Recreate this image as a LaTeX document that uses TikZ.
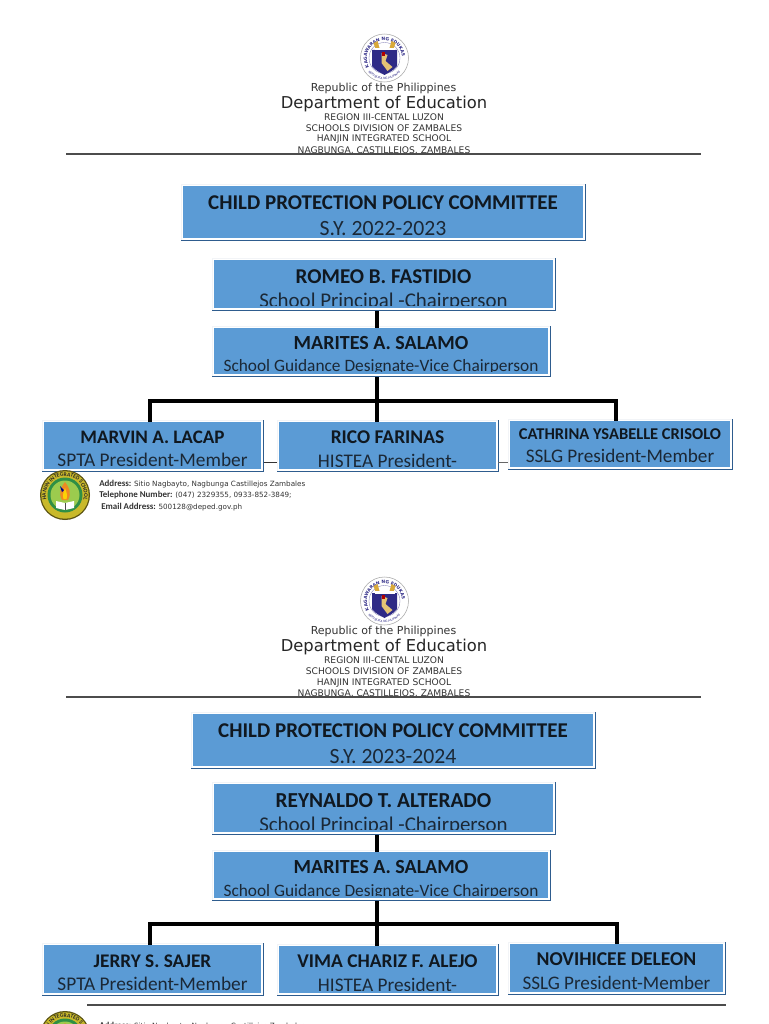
\documentclass[tikz,border=0pt]{standalone}
\usepackage{fontspec}
\setmainfont{Carlito}
\newfontfamily\djv{DejaVu Sans}
\usetikzlibrary{decorations.text}
\definecolor{boxblue}{HTML}{5B9BD5}
\definecolor{boxedge}{HTML}{2E5C8E}
\definecolor{boxframe}{HTML}{F2F4F7}
\definecolor{inkdark}{HTML}{101820}
\definecolor{inksub}{HTML}{1B2836}
\definecolor{headgray}{HTML}{333333}
\definecolor{sealblue}{HTML}{2E2A86}
\definecolor{sealgold}{HTML}{D9A93A}
\definecolor{logogreen}{HTML}{2F8F45}
\definecolor{logolime}{HTML}{9CCB4E}
\definecolor{logogold}{HTML}{C9B92A}
\definecolor{logoflame}{HTML}{EE8A22}
\newcommand{\fs}[1]{\fontsize{#1}{#1}\selectfont}
\tikzset{
  x=0.75pt,y=-0.75pt,
  conn/.style={draw=black,line width=2.4pt,line cap=butt,line join=miter},
  thinconn/.style={draw=#1,line width=0.7pt},
  boxfill/.style={fill=boxblue,draw=none,inner sep=0pt,outer sep=0pt},
  titletext/.style={anchor=base,inner sep=0pt,text=inkdark,font=\bfseries},
  subtext/.style={anchor=base,inner sep=0pt,text=inksub},
  headline/.style={anchor=base,inner sep=0pt,text=headgray},
  addr/.style={anchor=base west,inner sep=0pt,text=headgray},
  rulegray/.style={draw=#1,line width=0.8pt},
}
% name x1 y1 x2 y2 title titlebaseline sub subbaseline
\newcommand{\orgbox}[9]{%
  \fill[boxedge] (#2-2,#3-2) rectangle (#4+3,#5+3);
  \fill[boxframe] (#2-2,#3-2) rectangle (#4+2,#5+2);
  \fill[white] (#2-1,#3-1) rectangle (#4+2,#5+2);
  \pgfmathsetmacro{\mx}{(#2+#4)/2}
  \pgfmathsetmacro{\my}{(#3+#5)/2}
  \pgfmathsetmacro{\mw}{(#4-#2)*0.75}
  \pgfmathsetmacro{\mh}{(#5-#3)*0.75}
  \node[boxfill,minimum width=\mw pt,minimum height=\mh pt] (#1) at (\mx,\my) {};
  \begin{scope}
    \clip (#2,#3) rectangle (#4,#5-3);
    \node[titletext] (#1title) at (\mx,#7+0.7) {#6};
    \node[subtext] (#1sub) at (\mx,#9+0.7) {#8};
  \end{scope}
}
\newcommand{\depedseal}{%
  \fill[white] (0,0) circle (24);
  \draw[gray!70,line width=0.4pt] (0,0) circle (24);
  \draw[sealblue!60,line width=0.25pt] (0,0) circle (15.5);
  \path[decorate,decoration={text along path,text align=center,
    text={|\djv\bfseries\fs{3.3}\color{sealblue}|KAGAWARAN NG EDUKASYON}}]
    (-17.5,0) arc[start angle=180,end angle=360,radius=17.5];
  \path[decorate,decoration={text along path,text align=center,
    text={|\djv\fs{2.2}\color{sealblue}|REPUBLIKA NG PILIPINAS}}]
    (-21.5,3) arc[start angle=172,end angle=8,radius=21.5];
  \fill[sealgold] (-11,-15) -- (-7,-17) -- (-5,-10) -- (-9,-9) -- cycle;
  \fill[sealgold] (11,-15) -- (7,-17) -- (5,-10) -- (9,-9) -- cycle;
  \fill[sealblue] (-12.5,-8) -- (12.5,-8) -- (12.5,8) .. controls (9,13) and (3,15) .. (0,17)
     .. controls (-3,15) and (-9,13) .. (-12.5,8) -- cycle;
  \fill[white] (-10,-10) rectangle (10,-7.5);
  \fill[sealgold!70!white] (-3,-5) -- (3,-3) -- (1,3) -- (8,9) -- (3,13) -- (-3,5) -- cycle;
  \fill[red!70!black] (-3,-6) -- (0,-6) -- (0,-2) -- (-3,-2) -- cycle;
}
\newcommand{\schoollogo}{%
  \fill[logogold!45!black] (0,0) circle (25);
  \fill[logogold] (0,0) circle (23.7);
  \fill[logogreen] (0,0) circle (17.5);
  \fill[logolime] (0,0) circle (14.5);
  \path[decorate,decoration={text along path,text align=center,
    text={|\bfseries\fs{4.2}\color{black!85}|HANJIN INTEGRATED SCHOOL}}]
    (-18.6,4) arc[start angle=168,end angle=372,radius=19];
  \fill[white] (-9,6) -- (0,8) -- (9,6) -- (9,13) -- (0,15) -- (-9,13) -- cycle;
  \draw[black!70,line width=0.3pt] (0,8) -- (0,15);
  \fill[logoflame] (-3,5) .. controls (-7,-2) and (-4,-8) .. (0,-13)
     .. controls (4,-8) and (7,-2) .. (3,5) -- cycle;
  \fill[yellow!70!orange] (-1.5,4) .. controls (-3,0) and (-1,-4) .. (0,-7)
     .. controls (1,-4) and (3,0) .. (1.5,4) -- cycle;
  \fill[blue!55!black] (-3,-3) -- (-5,-9) -- (-1,-5) -- cycle;
}
\newcommand{\headerblock}[1]{%
  \begin{scope}[shift={(384.5,58)}]\depedseal\end{scope}
  \node[headline,font=\djv\fs{8.25}] (#1rep) at (383.5,91) {Republic of the Philippines};
  \node[headline,font=\djv\fs{12.25},text=black!85] (#1dep) at (384,108.5) {Department of Education};
  \node[headline,font=\djv\fs{6.85}] (#1reg) at (384,120) {REGION III-CENTAL LUZON};
  \node[headline,font=\djv\fs{6.85}] (#1div) at (384,131.5) {SCHOOLS DIVISION OF ZAMBALES};
  \node[headline,font=\djv\fs{6.85}] (#1han) at (384,142) {HANJIN INTEGRATED SCHOOL};
  \node[headline,font=\djv\fs{6.85}] (#1nag) at (384,153) {NAGBUNGA, CASTILLEJOS, ZAMBALES};
  \coordinate (#1ruleL) at (66,154);
  \coordinate (#1ruleR) at (701,154);
  \draw[rulegray=black!70] (#1ruleL) -- (#1ruleR);
}
\begin{document}
\begin{tikzpicture}
\useasboundingbox (0,0) rectangle (768,1024);
\fill[white] (0,0) rectangle (768,1024);
\begin{scope}
\clip (0,0) rectangle (768,1024);
\headerblock{a}
\begin{scope}[shift={(0,543)}]\headerblock{b}\end{scope}

\coordinate (busA) at (377,401);
\coordinate (busAL) at (150,401);
\coordinate (busAR) at (616,401);
\coordinate (gapA1) at (264,462); \coordinate (gapA2) at (277,462);
\coordinate (gapA3) at (498,462); \coordinate (gapA4) at (508,462);

\orgbox{t1}{183}{186}{583}{238}{\fs{15.76}CHILD PROTECTION POLICY COMMITTEE}{209}{\fs{16.3}S.Y. 2022-2023}{235}
\orgbox{p1}{214}{260}{553}{308}{\fs{15.8}ROMEO B. FASTIDIO}{283}{\fs{15.7}School Principal -Chairperson}{307}
\orgbox{v1}{214}{328}{548}{374}{\fs{15}MARITES A. SALAMO}{349}{\fs{13}School Guidance Designate-Vice Chairperson}{371}
\orgbox{m1}{44}{422}{261}{469}{\fs{14.3}MARVIN A. LACAP}{443}{\fs{14.5}SPTA President-Member}{466}
\orgbox{r1}{279}{422}{496}{469}{\fs{14.6}RICO FARINAS}{443}{\fs{14.45}HISTEA President-}{467}
\orgbox{c1}{510}{421}{730}{467}{\fs{12.35}CATHRINA YSABELLE CRISOLO}{439}{\fs{14.4}SSLG President-Member}{462}

\draw[conn] (busA |- p1.south) ++(0,3) -- (busA |- v1.north);
\draw[conn] (busA |- v1.south) ++(0,3) -- (busA);
\draw[conn] (busAL |- m1.north) -- (busAL) -- (busAR) -- (busAR |- c1.north);
\draw[conn] (busA) -- (busA |- r1.north);
\draw[thinconn=black!80] (gapA1) -- (gapA2);
\draw[thinconn=black!60] (gapA3) -- (gapA4);

\begin{scope}[shift={(65,495)}]\schoollogo\end{scope}
\node[addr,font=\fs{6.7}] (adr1) at (99,486) {\textbf{Address:} {\djv\fs{5.4}Sitio Nagbayto, Nagbunga Castillejos Zambales}};
\node[addr,font=\fs{6.7}] (tel1) at (99,497) {\textbf{Telephone Number:} {\djv\fs{5.4}(047) 2329355, 0933-852-3849;}};
\node[addr,font=\fs{6.7}] (eml1) at (101,509) {\textbf{Email Address:} {\djv\fs{5.4}500128@deped.gov.ph}};

\coordinate (busB) at (377,924);
\coordinate (busBL) at (150,924);
\coordinate (busBR) at (617,924);

\orgbox{t2}{193}{714}{593}{766}{\fs{15.76}CHILD PROTECTION POLICY COMMITTEE}{737}{\fs{16.3}S.Y. 2023-2024}{763}
\orgbox{p2}{214}{784}{553}{832}{\fs{16}REYNALDO T. ALTERADO}{807}{\fs{15.7}School Principal -Chairperson}{831}
\orgbox{v2}{214}{852}{548}{898}{\fs{15}MARITES A. SALAMO}{873}{\fs{13}School Guidance Designate-Vice Chairperson}{896}
\orgbox{m2}{44}{945}{261}{993}{\fs{14.45}JERRY S. SAJER}{967}{\fs{14.5}SPTA President-Member}{990}
\orgbox{r2}{279}{946}{496}{993}{\fs{14.6}VIMA CHARIZ F. ALEJO}{967}{\fs{14.45}HISTEA President-}{991}
\orgbox{c2}{510}{944}{723}{992}{\fs{14.7}NOVIHICEE DELEON}{965}{\fs{14.35}SSLG President-Member}{989}

\draw[conn] (busB |- p2.south) ++(0,3) -- (busB |- v2.north);
\draw[conn] (busB |- v2.south) ++(0,3) -- (busB);
\draw[conn] (busBL |- m2.north) -- (busBL) -- (busBR) -- (busBR |- c2.north);
\draw[conn] (busB) -- (busB |- r2.north);

\coordinate (foot2L) at (87,1005);
\coordinate (foot2R) at (726,1005);
\draw[rulegray=black!70] (foot2L) -- (foot2R);
\begin{scope}[shift={(65,1036)}]\schoollogo\end{scope}
\node[addr,font=\fs{6.7}] (adr2) at (99,1028.5) {\textbf{Address:} {\djv\fs{5.4}Sitio Nagbayto, Nagbunga Castillejos Zambales}};
\end{scope}
\end{tikzpicture}
\end{document}
